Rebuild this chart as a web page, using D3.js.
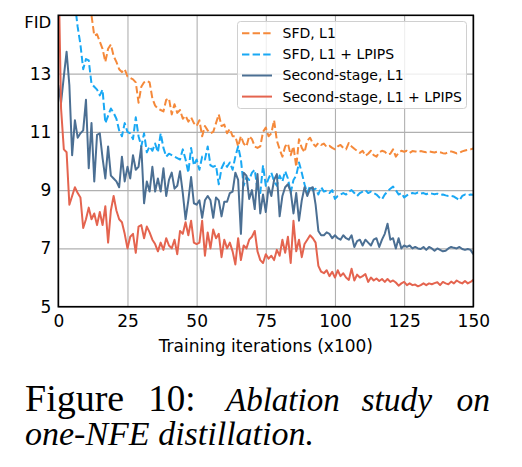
<!DOCTYPE html>
<html>
<head>
<meta charset="utf-8">
<script src="https://cdn.jsdelivr.net/npm/d3@7"></script>
<style>
  body { margin: 0; background: #fff; }
  svg text { font-family: "DejaVu Sans", sans-serif; }
</style>
</head>
<body>
<svg id="chart" width="522" height="467"></svg>
<script>
// tick labels
const xTicks = [0, 25, 50, 75, 100, 125, 150];
const yTicks = [5, 7, 9, 11, 13];

const seriesNames = ["SFD, L1", "SFD, L1 + LPIPS", "Second-stage, L1", "Second-stage, L1 + LPIPS"];

// FID per 100 training iterations (index = iteration / 100), null = not plotted
const sfdL1 = [
  null, null, null, null, null, null, null, null, null, null,
  16.8, 15.9, 15.0, 14.3, 14.35, 14.1, 13.85, 13.4, 13.85, 14.0,
  13.6, 13.4, 13.15, 13.05, 13.15, 12.9, 12.85, 12.8, 12.7, 12.0,
  12.55, 12.7, 12.75, 12.7, 12.15, 11.9, 11.8, 11.75, 11.7, 12.1,
  12.15, 11.6, 11.95, 11.65, 11.75, 11.45, 11.55, 11.35, 11.5, 11.3,
  11.2, 11.4, 10.85, 11.2, 11.05, 10.95, 11.0, 11.3, 11.6, 11.2,
  11.25, 10.95, 11.1, 10.85, 10.85, 10.5, 10.85, 10.6, 10.5, 10.85,
  10.75, 10.5, 10.45, 10.5, 11.0, 11.15, 10.85, 10.95, 11.4, 10.7,
  10.4, 10.15, 10.5, 10.6, 10.2, 10.5, 9.8, 10.75, 10.45, 10.3,
  10.7, 10.8, 10.6, 10.5, 10.62, 10.55, 10.6, 10.48, 10.52, 10.45,
  10.4, 10.5, 10.55, 10.45, 10.4, 10.62, 10.5, 10.42, 10.35, 10.28,
  10.35, 10.18, 10.25, 10.35, 10.2, 10.15, 10.3, 10.35, 10.32, 10.22,
  10.25, 10.4, 10.15, 10.28, 10.35, 10.32, 10.35, 10.28, 10.34, 10.33,
  10.3, 10.34, 10.32, 10.3, 10.33, 10.31, 10.29, 10.32, 10.3, 10.27,
  10.26, 10.3, 10.33, 10.3, 10.26, 10.28, 10.33, 10.36, 10.38, 10.4,
  10.43
];
const sfdLpips = [
  null, null, null, null, null, 16.5, 15.4, 14.6, 14.0, 13.15,
  13.5, 13.45, 12.65, 12.55, 12.45, 12.25, 12.45, 11.3, 11.55, 11.8,
  11.65, 11.45, 11.05, 10.85, 11.3, 11.0, 10.95, 10.75, 11.5, 10.85,
  10.5, 10.95, 10.3, 10.5, 10.35, 10.6, 10.3, 10.95, 10.45, 10.15,
  10.25, 10.2, 10.15, 10.1, 10.05, 10.4, 10.05, 9.6, 10.45, 9.85,
  10.05, 9.7, 10.15, 10.05, 10.5, 9.85, 9.8, 9.85, 9.2, 9.75,
  9.95, 9.8, 9.95, 9.7, 10.15, 10.5, 10.05, 9.15, 9.45, 9.35,
  9.6, 9.7, 9.0, 8.9, 9.85, 9.15, 9.4, 9.6, 9.3, 9.15,
  9.5, 9.3, 9.65, 9.4, 8.9, 9.35, 9.5, 9.95, 9.6, 9.2,
  8.9, 9.15, 9.0, 9.05, 8.85, 9.1, 8.95, 8.98, 8.9, 9.0,
  8.7, 8.8, 8.85, 8.9, 8.85, 8.95, 9.0, 8.9, 8.8, 8.9,
  8.95, 9.0, 8.9, 8.95, 8.9, 8.85, 8.75, 8.68, 8.85, 8.95,
  9.05, 9.12, 9.0, 8.85, 8.9, 8.75, 8.82, 8.88, 8.9, 8.88,
  8.92, 8.88, 8.9, 8.86, 8.9, 8.88, 8.86, 8.88, 8.84, 8.85,
  8.82, 8.8, 8.8, 8.78, 8.72, 8.65, 8.8, 8.85, 8.82, 8.85,
  8.84
];
const stageL1 = [
  12.6, 12.0, 12.9, 13.75, 12.6, 10.2, 11.4, 10.8, 10.95, 11.05,
  12.1, 9.75, 11.3, 9.3, 10.9, 10.95, 10.1, 9.4, 10.5, 9.5,
  9.4, 9.3, 9.1, 10.15, 9.3, 9.8, 9.4, 10.2, 9.7, 9.8,
  10.5, 8.55, 9.3, 8.95, 9.8, 8.95, 9.4, 8.95, 9.75, 8.8,
  9.35, 9.6, 9.05, 9.15, 9.65, 8.9, 8.0, 8.65, 9.45, 8.55,
  8.5, 8.65, 8.05, 8.65, 8.8, 8.65, 8.05, 8.75, 8.65, 8.1,
  8.6, 8.6, 8.9, 8.95, 9.6, 9.35, 7.5, 9.6, 9.5, 8.7,
  9.0, 8.35, 9.55, 8.2, 8.85, 8.25, 9.1, 8.8, 9.35, 9.55,
  8.1, 8.8, 9.1, 9.2, 8.95, 8.2, 8.9, 7.95, 8.65, 9.1,
  8.8, 9.05, 9.1, 8.5, 7.6, 7.45, 7.45, 7.55, 7.5, 7.35,
  7.45, 7.35, 7.3, 7.45, 7.35, 7.3, 7.45, 7.05, 7.25, 7.3,
  7.1, 7.3, 7.2, 7.1, 7.3, 7.35, 7.05, 7.3, 7.5, 7.85,
  7.3, 7.35, 7.0, 7.35, 7.0, 7.1, 7.05, 7.1, 7.0, 7.05,
  7.0, 6.98, 7.05, 6.95, 7.05, 7.0, 6.92, 7.0, 6.95, 6.9,
  6.92, 7.0, 7.05, 7.02, 7.0, 7.05, 6.98, 6.95, 6.98, 6.95,
  6.8
];
const stageLpips = [
  17.0, 11.8, 10.4, 10.3, 8.5, 8.8, 9.1, 8.9, 8.75, 7.7,
  8.0, 8.4, 8.0, 8.2, 7.8, 8.25, 7.8, 8.45, 7.2, 8.3,
  8.8, 8.3, 8.0, 7.9, 7.5, 7.0, 7.4, 7.5, 6.85, 7.75,
  7.8, 7.35, 7.75, 7.55, 7.3, 7.15, 6.9, 7.2, 6.95, 7.35,
  7.1, 7.0, 7.3, 6.8, 7.6, 7.5, 7.9, 7.45, 7.95, 7.2,
  7.15, 7.2, 7.95, 6.75, 7.55, 7.0, 7.65, 7.35, 7.5, 6.7,
  7.3, 7.0, 7.2, 6.9, 6.45, 7.35, 6.6, 7.1, 7.0, 7.3,
  7.4, 7.6, 6.9, 6.6, 6.5, 6.8, 6.65, 6.75, 6.6, 6.95,
  6.75, 7.3, 6.85, 7.4, 6.5, 7.95, 6.9, 7.3, 6.7, 7.15,
  7.3, 7.45, 7.35, 7.2, 6.4, 6.2, 6.15, 6.25, 6.05, 6.2,
  6.0, 6.25, 6.05, 6.15, 6.0, 5.92, 6.3, 5.9, 6.1, 6.0,
  6.05, 6.12, 5.85, 6.0, 5.9, 5.97, 5.88, 5.95, 5.85, 5.95,
  5.85, 5.9, 5.83, 5.72, 5.8, 5.85, 5.74, 5.8, 5.74, 5.76,
  5.7, 5.74, 5.8, 5.74, 5.8, 5.77, 5.81, 5.84, 5.74, 5.85,
  5.8, 5.77, 5.86, 5.8, 5.9, 5.84, 5.8, 5.88, 5.8, 5.85,
  5.92
];

const series = [
  {name: seriesNames[0], values: sfdL1, color: "#f5893a", dash: "7.4,3.2"},
  {name: seriesNames[1], values: sfdLpips, color: "#19a8f4", dash: "7.4,3.2"},
  {name: seriesNames[2], values: stageL1, color: "#4b6f93", dash: null},
  {name: seriesNames[3], values: stageLpips, color: "#e4644f", dash: null}
];

const svg = d3.select("#chart");
const plotLeft = 58.3, plotRight = 473.3, plotTop = 15.3, plotBottom = 306.7;
const width = plotRight - plotLeft, height = plotBottom - plotTop;

const x = d3.scaleLinear().domain([0, 150]).range([plotLeft, plotRight]);
const y = d3.scaleLinear().domain([5, 15]).range([plotBottom, plotTop]);

// grid
const gx = svg.append("g").attr("transform", `translate(0,${plotBottom})`)
    .call(d3.axisBottom(x).tickValues(xTicks).tickSizeInner(-height).tickSizeOuter(0).tickFormat(""));
const gy = svg.append("g").attr("transform", `translate(${plotLeft},0)`)
    .call(d3.axisLeft(y).tickValues(yTicks).tickSizeInner(-width).tickSizeOuter(0).tickFormat(""));
[gx, gy].forEach(g => {
  g.select(".domain").remove();
  g.selectAll("line").attr("stroke", "#b0b0b0").attr("stroke-width", 1.1);
});

svg.append("clipPath").attr("id", "plot-clip")
  .append("rect").attr("x", plotLeft).attr("y", plotTop).attr("width", width).attr("height", height);

const line = d3.line()
    .defined(d => d != null)
    .x((d, i) => x(i))
    .y(d => y(d));

const lines = svg.append("g").attr("clip-path", "url(#plot-clip)");
series.forEach(s => {
  lines.append("path")
    .attr("d", line(s.values))
    .attr("fill", "none")
    .attr("stroke", s.color)
    .attr("stroke-width", 2)
    .attr("stroke-linejoin", "round")
    .attr("stroke-dasharray", s.dash);
});

// tick labels
const ax = svg.append("g").attr("transform", `translate(0,${plotBottom})`)
    .call(d3.axisBottom(x).tickValues(xTicks).tickSize(0).tickPadding(8));
const ay = svg.append("g").attr("transform", `translate(${plotLeft},0)`)
    .call(d3.axisLeft(y).tickValues(yTicks).tickSize(0).tickPadding(7));
[ax, ay].forEach(g => {
  g.select(".domain").remove();
  g.selectAll("text").attr("font-size", 17).attr("font-family", "DejaVu Sans").attr("fill", "#000");
});
ax.selectAll("text").attr("dy", "0.72em");

svg.append("text")
  .attr("x", plotLeft - 7).attr("y", plotTop + 6.5).attr("dy", "0.35em")
  .attr("text-anchor", "end").attr("font-size", 16.5).text("FID");

// frame
svg.append("rect")
  .attr("x", plotLeft).attr("y", plotTop).attr("width", width).attr("height", height)
  .attr("fill", "none").attr("stroke", "#000").attr("stroke-width", 1.6);

svg.append("text")
  .attr("x", (plotLeft + plotRight) / 2).attr("y", 352)
  .attr("text-anchor", "middle").attr("font-size", 17)
  .text("Training iterations (x100)");

// legend
const lg = svg.append("g");
lg.append("rect")
  .attr("x", 237.5).attr("y", 21.5).attr("width", 229).attr("height", 87)
  .attr("rx", 3).attr("fill", "#fff").attr("fill-opacity", 0.8)
  .attr("stroke", "#d0d0d0").attr("stroke-width", 1);
series.forEach((s, i) => {
  const cy = 33.3 + i * 21.1;
  lg.append("line")
    .attr("x1", 242).attr("x2", 272).attr("y1", cy).attr("y2", cy)
    .attr("stroke", s.color).attr("stroke-width", 2)
    .attr("stroke-dasharray", s.dash);
  lg.append("text")
    .attr("x", 282.5).attr("y", cy).attr("dy", "0.35em")
    .attr("font-size", 14).text(s.name);
});

// caption, word by word to follow the justified line
const cap = svg.append("g").style("font-family", "Liberation Serif");
const capWords = [
  // text, x, baseline, size, italic, anchor
  ["Figure", 25, 411, 38, false, "start"],
  ["10:", 148.3, 411, 37, false, "start"],
  ["Ablation", 226, 411, 33, true, "start"],
  ["study", 361.5, 411, 33.5, true, "start"],
  ["on", 490, 411, 33.5, true, "end"],
  ["one-NFE distillation.", 25, 445, 34, true, "start"]
];
capWords.forEach(w => {
  cap.append("text")
    .attr("x", w[1]).attr("y", w[2])
    .attr("font-size", w[3])
    .attr("font-style", w[4] ? "italic" : "normal")
    .attr("text-anchor", w[5])
    .style("font-family", "Liberation Serif")
    .text(w[0]);
});
</script>
</body>
</html>
